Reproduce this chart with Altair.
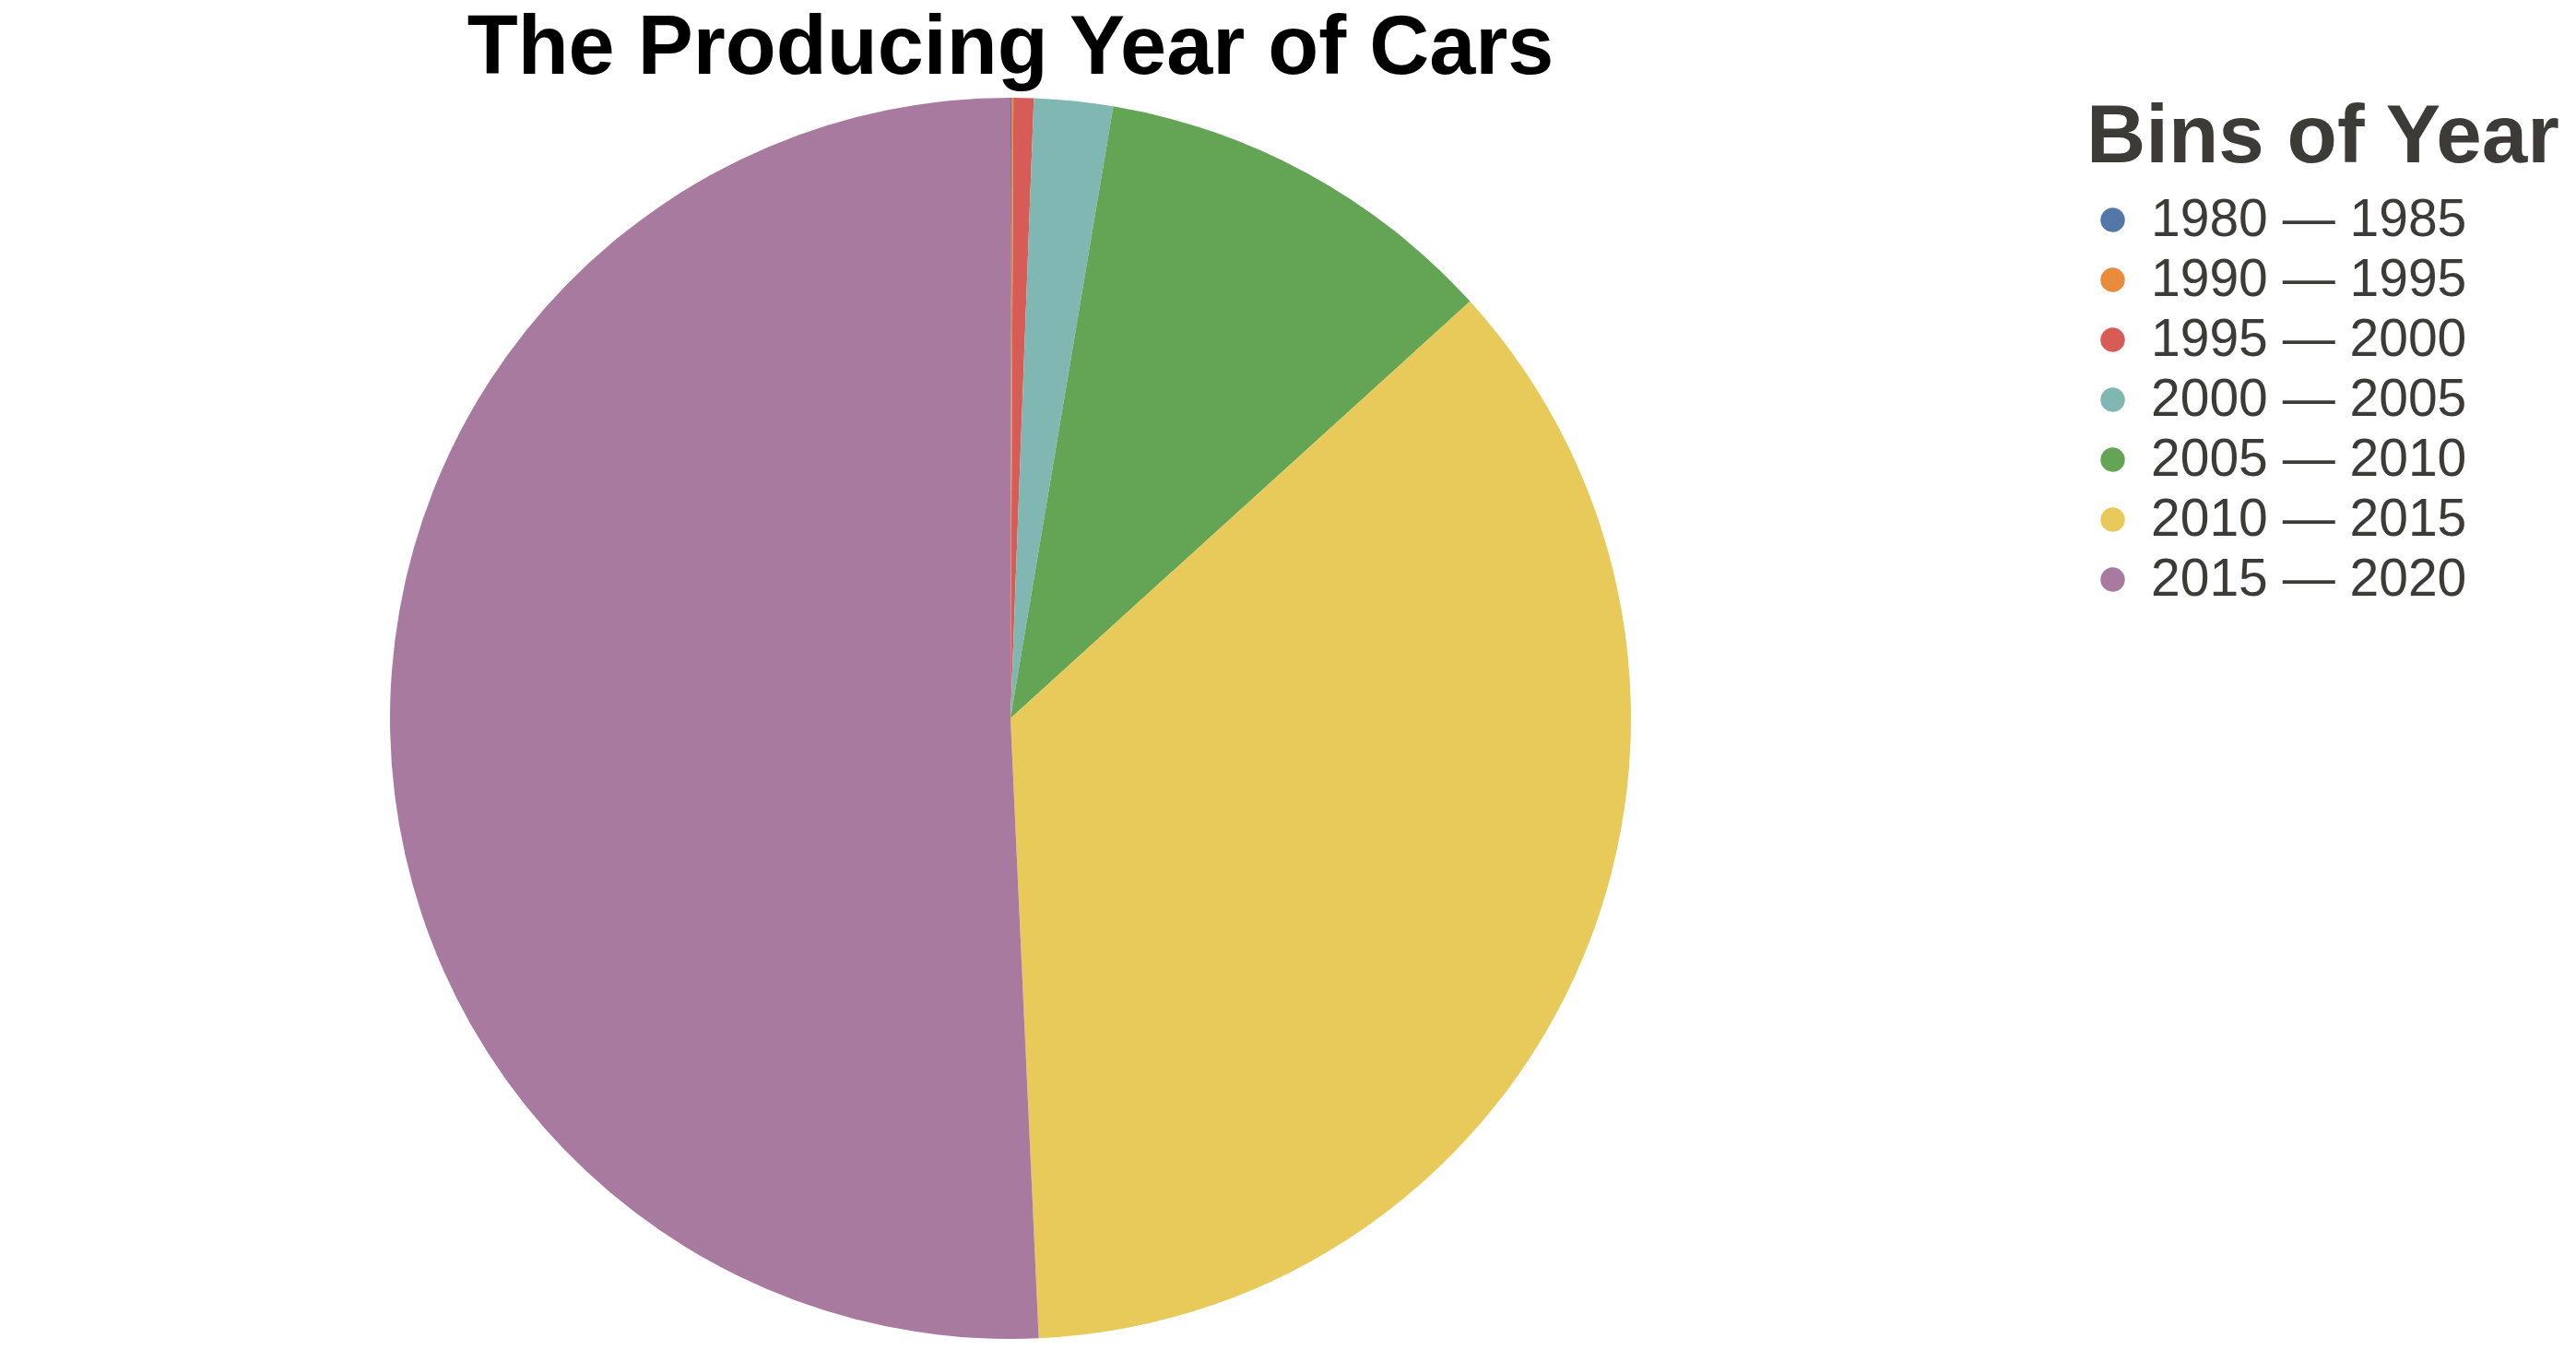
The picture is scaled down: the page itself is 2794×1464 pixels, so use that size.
import altair as alt
import pandas as pd

bins = ["1980 — 1985", "1990 — 1995", "1995 — 2000", "2000 — 2005",
        "2005 — 2010", "2010 — 2015", "2015 — 2020"]
counts = [1, 2, 21, 82, 425, 1440, 2029]
colors = ["#5277a8", "#e88b3a", "#d75c58", "#80b7b2", "#64a455", "#e8ca5a", "#a87aa0"]

df = pd.DataFrame({"bin": bins, "count": counts, "idx": list(range(len(bins)))})

chart = (
    alt.Chart(df)
    .mark_arc()
    .encode(
        theta=alt.Theta("count:Q", stack=True),
        color=alt.Color(
            "bin:N",
            scale=alt.Scale(domain=bins, range=colors),
            legend=alt.Legend(
                title="Bins of Year",
                symbolType="circle",
                symbolSize=700,
                labelFontSize=57,
                titleFontSize=89,
                labelFont="Liberation Sans",
                titleFont="Liberation Sans",
                titleFontWeight="bold",
                titleColor="#3c3b37",
                labelColor="#3c3b37",
                rowPadding=7,
                offset=84,
                titlePadding=15,
                labelOffset=13,
                labelLimit=1000,
                titleLimit=1000,
            ),
        ),
        order=alt.Order("idx:Q"),
    )
    .properties(
        width=2166,
        height=1346,
        padding={"top": 0, "left": 5, "right": 5, "bottom": 5},
        title=alt.TitleParams(
            "The Producing Year of Cars",
            fontSize=90,
            font="Liberation Sans",
            fontWeight="bold",
            anchor="middle",
            color="#000000",
            offset=7,
        ),
    )
    .configure_view(stroke=None)
)

chart.save("out.html", embed_options={"renderer": "svg", "actions": False})
